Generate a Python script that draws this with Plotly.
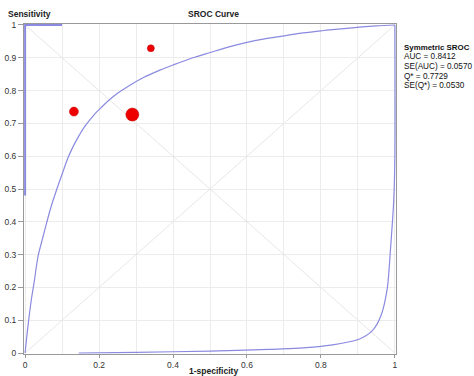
import plotly.graph_objects as go

# Study points (1-specificity, sensitivity, relative weight/size)
study_fpr = [0.340, 0.132, 0.290]
study_sens = [0.929, 0.736, 0.727]
study_size = [7, 9, 13]

# Symmetric SROC curve
curve_fpr = [0.0, 0.008, 0.017, 0.025, 0.035, 0.045, 0.058, 0.070, 0.085, 0.100,
             0.116, 0.130, 0.147, 0.161, 0.187, 0.200, 0.228, 0.250, 0.277, 0.320,
             0.366, 0.400, 0.456, 0.500, 0.554, 0.600, 0.644, 0.700, 0.733, 0.800,
             0.823, 0.912, 0.950, 1.0]
curve_sens = [0.0, 0.085, 0.164, 0.220, 0.295, 0.340, 0.396, 0.445, 0.497, 0.545,
              0.595, 0.630, 0.665, 0.690, 0.727, 0.742, 0.772, 0.792, 0.812, 0.840,
              0.863, 0.878, 0.901, 0.916, 0.934, 0.947, 0.957, 0.967, 0.973, 0.982,
              0.985, 0.994, 0.997, 1.0]

# Lower (mirror) branch of the curve
lower_fpr = [0.145, 0.30, 0.50, 0.66, 0.742, 0.832, 0.903, 0.939, 0.962, 0.979,
             0.988, 0.997, 1.0, 1.0]
lower_sens = [0.0, 0.002, 0.006, 0.011, 0.015, 0.025, 0.042, 0.068, 0.113, 0.194,
              0.315, 0.467, 0.60, 1.0]

# Edge branch along left and top borders
edge_fpr = [0.0, 0.0, 0.10]
edge_sens = [0.48, 1.0, 1.0]

stats_title = "Symmetric SROC"
stats_lines = ["AUC = 0.8412", "SE(AUC) = 0.0570", "Q* = 0.7729", "SE(Q*) = 0.0530"]

x_ticks = [0, 0.2, 0.4, 0.6, 0.8, 1]
y_ticks = [0, 0.1, 0.2, 0.3, 0.4, 0.5, 0.6, 0.7, 0.8, 0.9, 1]

curve_color = "#8a8ae0"
font = "Liberation Sans, Arial, sans-serif"

fig = go.Figure()
# diagonals
fig.add_trace(go.Scatter(x=[0, 1], y=[0, 1], mode="lines",
                         line=dict(color="#e6e6e6", width=1), hoverinfo="skip"))
fig.add_trace(go.Scatter(x=[0, 1], y=[1, 0], mode="lines",
                         line=dict(color="#e6e6e6", width=1), hoverinfo="skip"))
fig.add_trace(go.Scatter(x=curve_fpr, y=curve_sens, mode="lines", line_shape="spline",
                         line=dict(color=curve_color, width=1.2, smoothing=1)))
fig.add_trace(go.Scatter(x=lower_fpr, y=lower_sens, mode="lines", line_shape="spline",
                         line=dict(color=curve_color, width=1.2, smoothing=0.8)))
fig.add_trace(go.Scatter(x=edge_fpr, y=edge_sens, mode="lines",
                         line=dict(color=curve_color, width=2)))
fig.add_trace(go.Scatter(x=study_fpr, y=study_sens, mode="markers",
                         marker=dict(color="#ee0000", size=study_size, opacity=1,
                                     line=dict(color="#c00000", width=0.5))))

# layout geometry
L, R, T, B = 23.5, 396, 24, 354
W, H = 474, 376

def px_x(px):
    return (px - L) / (R - L)

def px_y(py):
    return (B - py) / (B - T)

TF = 8.5   # bold titles
SF = 8.2   # stats text
ann = [
    dict(text="<b>SROC Curve</b>", x=px_x(213), y=px_y(14), xanchor="center", yanchor="middle",
         font=dict(size=TF, color="#222")),
    dict(text="<b>Sensitivity</b>", x=px_x(6), y=px_y(14), xanchor="left", yanchor="middle",
         font=dict(size=TF, color="#222")),
    dict(text="<b>1-specificity</b>", x=px_x(239), y=px_y(371), xanchor="right", yanchor="middle",
         font=dict(size=TF, color="#222")),
    dict(text="<b>" + stats_title + "</b>", x=px_x(403), y=px_y(47), xanchor="left", yanchor="middle",
         font=dict(size=7.9, color="#111")),
]
for i, s in enumerate(stats_lines):
    ann.append(dict(text=s, x=px_x(403), y=px_y(57 + 9.5 * i), xanchor="left", yanchor="middle",
                    font=dict(size=SF, color="#111")))
for a in ann:
    a.update(xref="paper", yref="paper", showarrow=False, borderpad=0)

fig.update_layout(
    width=W, height=H,
    margin=dict(l=L, r=W - R, t=T, b=H - B, pad=0, autoexpand=False),
    paper_bgcolor="white", plot_bgcolor="white",
    showlegend=False,
    font=dict(family=font, size=8, color="#333"),
    annotations=ann,
    xaxis=dict(range=[-0.003, 1.003], tickvals=x_ticks, ticktext=[str(v) for v in [0, 0.2, 0.4, 0.6, 0.8, 1]],
               automargin=False,
               showgrid=True, gridcolor="#ececec", gridwidth=1,
               minor=dict(dtick=0.1, tick0=0, showgrid=True, gridcolor="#ececec", ticks=""),
               showline=True, linecolor="#999", linewidth=1, mirror=True,
               ticks="outside", ticklen=3, tickcolor="#999", zeroline=False,
               tickfont=dict(size=8.5, color="#333")),
    yaxis=dict(range=[-0.003, 1.003], tickvals=y_ticks, ticktext=[str(v) for v in y_ticks],
               automargin=False,
               showgrid=True, gridcolor="#ececec", gridwidth=1,
               showline=True, linecolor="#999", linewidth=1, mirror=True,
               ticks="outside", ticklen=5, tickcolor="#999", zeroline=False,
               tickfont=dict(size=8.5, color="#333")),
)

fig.write_html("out.html", config={"displayModeBar": False},
               post_script="document.body.style.margin='0';document.body.style.overflow='hidden';")
